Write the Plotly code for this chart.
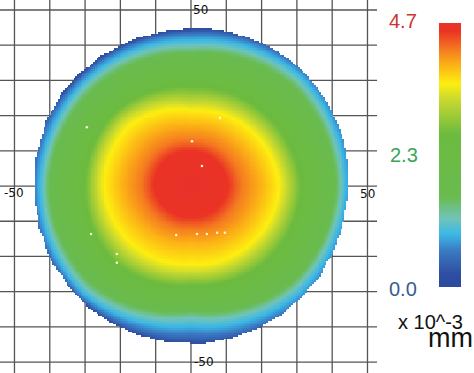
import numpy as np
import plotly.graph_objects as go

# Surface height map, x 10^-3 mm. The raster is rebuilt from isolines:
# for each direction, the radius (axis units) at which the surface reaches each level.
levels = [4.70, 4.56, 4.23, 3.95, 3.62, 3.34, 2.73, 1.60, 1.22, 0.94, 0.66, 0.24]
direction_deg = [0, 45, 90, 135, 180, 225, 270, 315]
iso_radii = [
    [0, 10.5, 14.2, 19.8, 24.9, 27.0, 31.0, 41.0, 42.4, 43.6, 45.5, 46.8],
    [0, 10.0, 13.5, 18.0, 23.0, 25.2, 29.2, 40.5, 42.5, 44.0, 45.5, 47.0],
    [0, 10.0, 13.0, 17.2, 21.5, 23.4, 28.0, 37.7, 39.7, 41.4, 43.0, 44.2],
    [0, 10.5, 14.0, 19.0, 24.5, 26.8, 30.0, 39.0, 41.0, 42.3, 43.6, 44.6],
    [0, 10.5, 14.2, 19.5, 24.6, 26.6, 30.0, 40.2, 41.6, 42.8, 44.4, 46.5],
    [0, 9.5, 13.0, 17.6, 23.4, 26.0, 30.5, 39.5, 41.5, 43.0, 44.2, 45.0],
    [0, 8.8, 12.0, 16.0, 22.1, 24.5, 28.0, 35.4, 37.4, 39.7, 41.7, 44.4],
    [0, 9.5, 13.2, 18.0, 23.4, 25.6, 30.0, 39.5, 41.3, 43.0, 45.0, 46.2],
]
# Rim of the measured area, radius every 5 degrees from 0 (east), counter-clockwise
rim_radius = [
    44.3, 44.5, 44.7, 44.9, 45.0, 45.1, 45.2, 45.2, 45.3, 45.3, 45.4, 45.3,
    45.3, 45.2, 45.1, 45.0, 44.9, 44.8, 44.6, 44.5, 44.6, 44.4, 44.8, 44.7,
    44.5, 45.0, 44.6, 45.1, 44.8, 45.2, 44.7, 45.1, 44.6, 44.4, 44.8, 44.3,
    44.2, 44.6, 44.2, 44.7, 44.3, 44.8, 44.9, 44.5, 45.0, 44.7, 45.1, 44.8,
    45.0, 44.7, 44.9, 44.6, 44.7, 44.4, 44.5, 44.7, 44.4, 44.6, 44.3, 44.6,
    44.2, 44.6, 44.0, 44.5, 44.1, 44.6, 44.0, 44.5, 44.1, 44.3, 44.0, 44.2,
]
speck_x = [3.1, 0.3, 8.2, -29.5, -28.3, -21.0, -21.0, -4.2, 1.7, 4.5, 7.4, 9.6]
speck_y = [5.7, 12.7, 19.3, 16.7, -13.6, -21.8, -19.3, -13.9, -13.6, -13.6, -13.3, -13.3]
grid_ticks = [-50, -40, -30, -20, -10, 0, 10, 20, 30, 40, 50]

cb_pos = [0, .05, .14, .20, .26, .34, .58, .71, .77, .84, .90, .97, 1]
cb_col = ["#2d4a9c", "#2f4ea2", "#3a7cc4", "#3cb8e6", "#70c4b8", "#6abb50", "#6cbb3f",
          "#c9d92f", "#fdee10", "#fcb216", "#f47a20", "#ea3325", "#e8322a"]
colorscale = [[p, c] for p, c in zip(cb_pos, cb_col)]

xs = np.arange(-47, 47.01, 0.5)
ys = np.arange(-47, 47.01, 0.5)
X, Y = np.meshgrid(xs, ys)
R = np.hypot(X, Y)
T = np.degrees(np.arctan2(Y, X)) % 360

ang_closed = np.array(direction_deg + [360], dtype=float)
radii = np.array(iso_radii + [iso_radii[0]], dtype=float)
lev = np.array(levels)
Z = np.full(X.shape, np.nan)
rim_ang = np.arange(0, 361, 5.0)
rim_closed = np.array(rim_radius + [rim_radius[0]])
rim_at = np.interp(T.ravel(), rim_ang, rim_closed).reshape(X.shape)
for i in range(X.shape[0]):
    for j in range(X.shape[1]):
        if R[i, j] <= rim_at[i, j]:
            rr = [np.interp(T[i, j], ang_closed, radii[:, k]) for k in range(len(lev))]
            Z[i, j] = np.interp(R[i, j], rr, lev)

fig = go.Figure()

x_range = [-54.1, 80.17]
y_range = [-53.1, 52.84]
h_end = 52.7
grid_line = dict(color="#555555", width=1.3)
for g in grid_ticks:
    fig.add_shape(type="line", xref="x", yref="y", x0=g, x1=g, y0=y_range[0], y1=y_range[1],
                  line=grid_line, layer="below")
    fig.add_shape(type="line", xref="x", yref="y", x0=x_range[0], x1=h_end, y0=g, y1=g,
                  line=grid_line, layer="below")

fig.add_trace(go.Heatmap(
    x=xs, y=ys, z=Z, zmin=0, zmax=4.7, colorscale=colorscale, zsmooth=False,
    hoverongaps=False,
    colorbar=dict(xref="container", yref="container", x=439 / 474, xanchor="left", xpad=0,
                  y=1 - 287 / 373, yanchor="bottom", ypad=0,
                  lenmode="pixels", len=264, thicknessmode="pixels", thickness=22,
                  outlinewidth=0, showticklabels=False, ticks=""),
))
fig.add_trace(go.Scatter(x=speck_x, y=speck_y, mode="markers", hoverinfo="skip", showlegend=False,
                         marker=dict(color="#fff6e0", size=2.5)))

def label(x, y, text, size, color, anchor="center", family="DejaVu Sans"):
    fig.add_annotation(x=x, y=y, text=text, showarrow=False, xanchor=anchor, yanchor="middle",
                       font=dict(size=size, color=color, family=family))

label(2.8, 50.0, "50", 12, "#111111")
label(3.6, -50.0, "-50", 12, "#111111")
label(-50, -2.0, "-50", 12, "#111111")
label(50, -2.3, "50", 12, "#111111")
label(60.0, 46.8, "4.7", 20, "#c8362f", family="Liberation Sans")
label(60.3, 8.8, "2.3", 20, "#3aa55a", family="Liberation Sans")
label(60.0, -29.2, "0.0", 20, "#3a5a95", family="Liberation Sans")
label(67.8, -38.6, "x 10^-3", 20, "#111111", family="Liberation Sans")
label(66.6, -43.2, "mm", 27, "#111111", anchor="left", family="Liberation Sans")

fig.update_layout(
    width=474, height=373, margin=dict(l=0, r=0, t=0, b=0, pad=0, autoexpand=False),
    paper_bgcolor="white", plot_bgcolor="white", showlegend=False,
    xaxis=dict(range=x_range, visible=False, domain=[0, 1]),
    yaxis=dict(range=y_range, visible=False, domain=[0, 1]),
)
fig.write_html("out.html", config={"displayModeBar": False},
               post_script="document.body.style.margin='0';document.documentElement.style.overflow='hidden';")
